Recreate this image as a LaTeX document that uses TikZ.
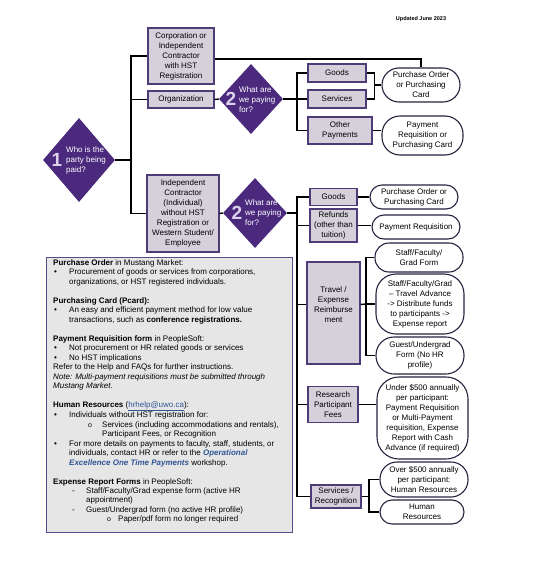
\documentclass[tikz,border=0pt]{standalone}
\usepackage{fontspec}
\setmainfont{Liberation Sans}
\usetikzlibrary{shapes.geometric}
\definecolor{diapurple}{HTML}{4B2A7E}
\definecolor{boxfill}{HTML}{D5D0DA}
\definecolor{boxline}{HTML}{4E3C78}
\definecolor{resline}{HTML}{2B2140}
\definecolor{infofill}{HTML}{E6E6E6}
\definecolor{infoline}{HTML}{5B4A8A}
\definecolor{numcol}{HTML}{DCD2EC}
\definecolor{linkblue}{HTML}{2F5597}
\newcommand\mybul{\hspace*{1pt}\makebox[15pt][l]{\textbullet}}
\newcommand\mycir{\hspace*{35pt}\makebox[14pt][l]{\scriptsize o}}
\newcommand\mydsh{\hspace*{19pt}\makebox[14pt][l]{-}}
\newcommand\mycirb{\hspace*{54pt}\makebox[11pt][l]{\scriptsize o}}
\newcommand\myind[1]{\hspace*{#1}}
\begin{document}
\begin{tikzpicture}[x=1pt,y=-1pt,
  box/.style={draw=boxline, fill=boxfill, line width=1.1pt, align=center, inner sep=0pt, font=\fontsize{8}{10}\selectfont},
  res/.style={draw=resline, fill=white, line width=1.1pt, align=center, inner sep=0pt, font=\fontsize{8}{10}\selectfont},
  dia/.style={diamond, fill=diapurple, inner sep=0pt},
  diatxt/.style={text=white, align=left, inner sep=0pt, font=\fontsize{8}{10}\selectfont},
  plain/.style={align=center, inner sep=0pt, font=\fontsize{8}{10}\selectfont},
  num/.style={text=numcol, inner sep=0pt, font=\fontsize{19}{19}\selectfont\bfseries},
  link/.style={draw=black, line width=1.4pt}]
\useasboundingbox[fill=white] (0,0) rectangle (550,573);

\node[font=\fontsize{5.5}{6}\selectfont\bfseries, inner sep=0pt] (upd) at (421,19) {Updated June 2023};

% info box
\node[draw=infoline, fill=infofill, line width=1.3pt, minimum width=246, minimum height=275, inner sep=0pt, anchor=north west] (info) at (46,257) {};
\node[anchor=north west, align=left, inner sep=0pt, font=\fontsize{8}{9.45}\selectfont] (infotxt) at (53,259.5) {%
\textbf{Purchase Order} in Mustang Market:\\
\mybul Procurement of goods or services from corporations,\\
\myind{16pt}organizations, or HST registered individuals.\\[9.5pt]
\textbf{Purchasing Card (Pcard):}\\
\mybul An easy and efficient payment method for low value\\
\myind{16pt}transactions, such as \textbf{conference registrations.}\\[9.5pt]
\textbf{Payment Requisition form} in PeopleSoft:\\
\mybul Not procurement or HR related goods or services\\
\mybul No HST implications\\
Refer to the Help and FAQs for further instructions.\\
\textit{Note: Multi-payment requisitions must be submitted through}\\
\textit{Mustang Market.}\\[9.5pt]
\textbf{Human Resources} (\textcolor{linkblue}{\underline{hrhelp@uwo.ca}}):\\
\mybul Individuals without HST registration for:\\
\mycir Services (including accommodations and rentals),\\
\myind{49pt}Participant Fees, or Recognition\\
\mybul For more details on payments to faculty, staff, students, or\\
\myind{16pt}individuals, contact HR or refer to the \textcolor{linkblue}{\textbf{\textit{Operational}}}\\
\myind{16pt}\textcolor{linkblue}{\textbf{\textit{Excellence One Time Payments}}} workshop.\\[9.5pt]
\textbf{Expense Report Forms} in PeopleSoft:\\
\mydsh Staff/Faculty/Grad expense form (active HR\\
\myind{33pt}appointment)\\
\mydsh Guest/Undergrad form (no active HR profile)\\
\mycirb Paper/pdf form no longer required};

% diamonds
\node[dia, minimum width=72, minimum height=84] (dia1) at (79,160) {};
\node[num] (n1) at (57,160) {1};
\node[diatxt, anchor=west] (d1txt) at (66,160) {Who is the\\party being\\paid?};

\node[dia, minimum width=64, minimum height=70] (dia2a) at (251,99) {};
\node[num] (n2a) at (231,99) {2};
\node[diatxt, anchor=west] (d2atxt) at (239,100) {What are\\we paying\\for?};

\node[dia, minimum width=64, minimum height=70] (dia2b) at (255,213) {};
\node[num] (n2b) at (237,213) {2};
\node[diatxt, anchor=west] (d2btxt) at (245,213) {What are\\we paying\\for?};

% left boxes
\node[box, minimum width=66, minimum height=56] (corp) at (181,56) {Corporation or\\Independent\\Contractor\\with HST\\Registration};
\node[box, minimum width=66, minimum height=17] (org) at (181,99.5) {Organization};
\node[box, minimum width=72, minimum height=77] (indep) at (183,213.5) {Independent\\Contractor\\(Individual)\\without HST\\Registration or\\Western Student/\\Employee};

% top right
\node[box, minimum width=58, minimum height=18] (goodsA) at (337,73) {Goods};
\node[box, minimum width=58, minimum height=18] (servA) at (337,99) {Services};
\node[box, minimum width=64, minimum height=27] (otherA) at (340,130.5) {Other\\Payments};
\node[res, minimum width=78, minimum height=34, rounded corners=17pt] (poA) at (421,85) {Purchase Order\\or Purchasing\\Card};
\node[res, minimum width=81, minimum height=39, rounded corners=18pt] (prA) at (422.5,135.5) {Payment\\Requisition or\\Purchasing Card};

% bottom right
\node[box, minimum width=47, minimum height=17] (goodsB) at (333.5,197) {Goods};
\node[box, minimum width=47, minimum height=33] (refB) at (333.5,225.5) {Refunds\\(other than\\tuition)};
\node[res, minimum width=88, minimum height=24, rounded corners=12pt] (poB) at (414,197) {Purchase Order or\\Purchasing Card};
\node[res, minimum width=88, minimum height=24, rounded corners=12pt] (prB) at (416,227) {Payment Requisition};

\node[box, minimum width=53, minimum height=102] (travel) at (333.5,313) {};
\node[plain] (travtxt) at (333.5,304.5) {Travel /\\Expense\\Reimburse\\ment};
\node[res, minimum width=88, minimum height=29, rounded corners=14pt] (sfg) at (419,257.5) {Staff/Faculty/\\Grad Form};
\node[res, minimum width=88, minimum height=60, rounded corners=20pt] (adv) at (420,304) {Staff/Faculty/Grad\\\textendash{} Travel Advance\\-> Distribute funds\\to participants ->\\Expense report};
\node[res, minimum width=88, minimum height=37, rounded corners=18pt] (guest) at (420,355.5) {Guest/Undergrad\\Form (No HR\\profile)};

\node[box, minimum width=50, minimum height=36] (research) at (333,404.5) {Research\\Participant\\Fees};
\node[res, minimum width=91, minimum height=82, rounded corners=22pt] (under) at (422.5,418) {Under \$500 annually\\per participant:\\Payment Requisition\\or Multi-Payment\\requisition, Expense\\Report with Cash\\Advance (if required)};

\node[box, minimum width=50, minimum height=23] (servrec) at (336,496.5) {Services /\\Recognition};
\node[res, minimum width=88, minimum height=35, rounded corners=17pt] (over) at (424,479.5) {Over \$500 annually\\per participant:\\Human Resources};
\node[res, minimum width=84, minimum height=24, rounded corners=12pt] (hr) at (422,512) {Human\\Resources};

% connectors
\coordinate (t1) at (131,160);
\draw[link] (dia1.east) -- (t1);
\draw[link] (corp.west) -- (corp.west -| t1) |- (indep.west);
\draw[link] (org.west) -- (org.west -| t1);
\draw[link] ([yshift=-3pt]corp.east) -| (poA.north);
\draw[link] (org.east) -- (dia2a.west);

\coordinate (t2a) at (297,99);
\draw[link] (dia2a.east) -- (t2a);
\draw[link] (goodsA.west) -| (t2a) |- (otherA.west);
\draw[link] (servA.west) -- (servA.west -| t2a);
\path (poA.west) ++(-7,0) coordinate (m2a);
\draw[link] (goodsA.east) -| (m2a);
\draw[link] (servA.east) -| (m2a);
\draw[link] (m2a) -- (poA.west);
\draw[link] (otherA.east) -- (otherA.east -| prA.west);

\draw[link] (indep.east) -- (dia2b.west);
\coordinate (t2b) at (297,213);
\draw[link] (dia2b.east) -- (t2b);
\draw[link] (goodsB.west) -| (t2b) |- (servrec.west);
\draw[link] (refB.west) -- (refB.west -| t2b);
\draw[link] (t2b |- travtxt) -- (travel.west |- travtxt);
\draw[link] (research.west) -- (research.west -| t2b);
\draw[link] (goodsB.east) -- (poB.west);
\draw[link] (refB.east) -- (refB.east -| prB.west);

\coordinate (m3) at (366,304);
\draw[link] (travel.east |- travtxt) -- (m3);
\draw[link] (sfg.west) -| (m3) |- (guest.west);
\draw[link] (m3) -- (adv.west);
\draw[link] (research.east) -- (research.east -| under.west);

\coordinate (m4) at (369,496.5);
\draw[link] (servrec.east) -- (m4);
\draw[link] (over.west) -| (m4) |- (hr.west);
\end{tikzpicture}
\end{document}
